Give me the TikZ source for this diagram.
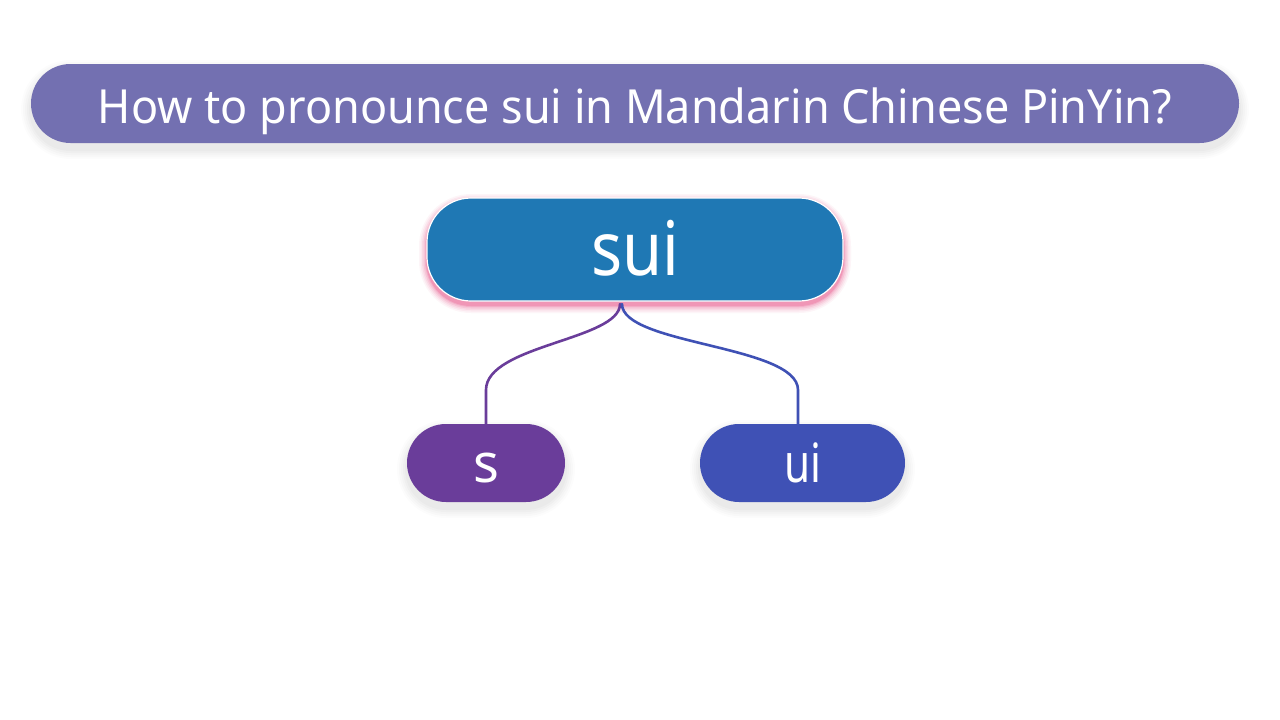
\documentclass[tikz,border=0pt]{standalone}
\usepackage{fontspec}
\setmainfont{Noto Sans}
\definecolor{banner}{HTML}{7370B1}
\definecolor{suiblue}{HTML}{1F78B4}
\definecolor{spurple}{HTML}{6A3D9A}
\definecolor{uiblue}{HTML}{3F51B5}
\definecolor{glow}{HTML}{E8407A}
\tikzset{
  pill/.style={inner sep=0pt, text=white, rounded corners=#1},
  link/.style={line width=2.6pt, line cap=round}
}
\begin{document}
\begin{tikzpicture}[x=1pt,y=-1pt]
\useasboundingbox (0,0) rectangle (1280,720);
\fill[white] (0,0) rectangle (1280,720);
\coordinate (sl) at (620,304);
\coordinate (sr) at (622,304);
\coordinate (lk) at (486,390);
\coordinate (rk) at (798,390);
% soft shadows
\foreach \g/\o in {10/0.012,8/0.014,6/0.016,4/0.018,2/0.02}{
  \fill[black, opacity=\o, rounded corners=39.5pt+\g pt] (31-\g,64-\g+6) rectangle (1239+\g,143+\g+6);
  \fill[black, opacity=\o, rounded corners=39pt+\g pt] (407-\g,424-\g+6) rectangle (565+\g,502+\g+6);
  \fill[black, opacity=\o, rounded corners=39pt+\g pt] (700-\g,424-\g+6) rectangle (905+\g,502+\g+6);
}
% pink glow behind sui
\foreach \g/\o in {8/0.05,6.5/0.07,5/0.09,3.5/0.12,2/0.16,1/0.22}{
  \fill[glow, opacity=\o, rounded corners=44pt+\g pt] (427-\g,198-\g+4) rectangle (843+\g,301+\g+4);
}
% banner
\node[pill=39.5pt, fill=banner, minimum width=1208pt, minimum height=79pt, text height=40pt, text depth=1pt] (title) at (635,103.5)
  {\fontsize{47}{47}\selectfont\resizebox{1074pt}{\height}{How to pronounce sui in Mandarin Chinese PinYin?}};
% sui
\node[pill=44pt, fill=suiblue, draw=white, line width=1.2pt, minimum width=416pt, minimum height=103pt, text height=52pt, text depth=1pt] (sui) at (635,249.5)
  {\fontsize{75}{75}\selectfont\resizebox{88pt}{\height}{sui}};
% s and ui
\node[pill=39pt, fill=spurple, minimum width=158pt, minimum height=78pt, text height=39pt, text depth=1pt] (s) at (486,463)
  {\fontsize{54}{54}\selectfont s};
\node[pill=39pt, fill=uiblue, minimum width=205pt, minimum height=78pt, text height=39pt, text depth=1pt] (ui) at (802.5,463)
  {\fontsize{54}{54}\selectfont\resizebox{37pt}{\height}{ui}};
\draw[link, spurple] (sl) .. controls (620,340) and (486,345) .. (lk) -- (lk |- s.north);
\draw[link, uiblue] (sr) .. controls (622,345) and (798,345) .. (rk) -- (rk |- ui.north);
\end{tikzpicture}
\end{document}
